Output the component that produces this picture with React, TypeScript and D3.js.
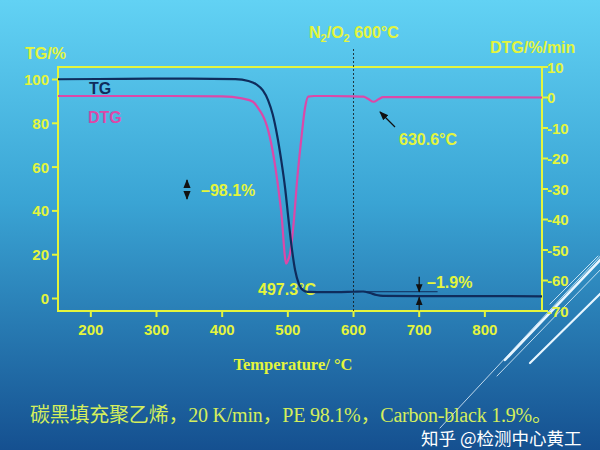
import React from "react";
import * as d3 from "d3";

// TG curve, temperature (°C) vs mass (%)
const tgTemp = [150, 250, 350, 420, 440, 452, 462, 470, 477, 484, 490, 496, 501, 506, 511, 517, 523, 530, 560, 600, 615, 625, 635, 645, 700, 800, 887];
const tgMass = [100.1, 100.3, 100.4, 100.2, 99.3, 97.8, 95.0, 90.5, 84, 74, 63, 50, 36, 23, 13, 6.5, 3.8, 3.0, 2.9, 3.1, 3.2, 2.5, 1.6, 1.2, 1.1, 1.1, 1.0];

// DTG curve, temperature (°C) vs rate (%/min)
const dtgTemp = [150, 300, 400, 430, 447, 455, 462, 468, 477, 485, 491, 495, 497.3, 500, 503, 508, 515, 521, 526, 531, 540, 600, 615, 622, 630.6, 638, 645, 700, 887];
const dtgRate = [0.5, 0.5, 0.4, -0.3, -1.4, -3.6, -6, -9.2, -17.7, -29, -40, -51, -54.5, -53.5, -51.5, -43, -25, -12.5, -3.6, 0.3, 0.5, 0.4, 0.3, -0.4, -1.4, -0.6, 0.1, 0.1, 0.0];

const xTicks = [200, 300, 400, 500, 600, 700, 800];
const tgTicks = [0, 20, 40, 60, 80, 100];
const dtgTicks = [10, 0, -10, -20, -30, -40, -50, -60, -70];

const W = 600, H = 450;
const left = 58, right = 542, top = 67, bottom = 311;
const YEL = "#e4f53c";
const NAVY = "#0f2c5c";
const PINK = "#dc48a8";
const FONT = "'Liberation Sans', Arial, sans-serif";

export default function App() {
  const x = d3.scaleLinear().domain([150, 887]).range([left, right]);
  const yL = d3.scaleLinear().domain([-5.7, 105.7]).range([bottom, top]);
  const yR = d3.scaleLinear().domain([-70, 10]).range([bottom, top]);

  const tgLine = d3.line<number>().x((d, i) => x(tgTemp[i])).y((d) => yL(d)).curve(d3.curveMonotoneX);
  const dtgLine = d3.line<number>().x((d, i) => x(dtgTemp[i])).y((d) => yR(d)).curve(d3.curveMonotoneX);

  const x600 = x(600);
  const upper = yL(3.1);
  const lower = yL(1.0);
  const ax = x(700);

  return (
    <svg width={W} height={H} style={{ position: "fixed", left: 0, top: 0 }}>
      <defs>
        <linearGradient id="bg" x1="0" y1="0" x2="0" y2="1">
          <stop offset="0" stopColor="#62d2f4" />
          <stop offset="0.45" stopColor="#3aa4d4" />
          <stop offset="1" stopColor="#155090" />
        </linearGradient>
        <marker id="ah" viewBox="0 0 10 10" refX="9" refY="5" markerWidth="7" markerHeight="7" orient="auto">
          <path d="M0,1 L10,5 L0,9 z" fill="#111" />
        </marker>
      </defs>
      <rect width={W} height={H} fill="url(#bg)" />

      {/* decorative diagonal lines */}
      <g stroke="#e8f6ff" strokeLinecap="round">
        <line x1={606} y1={250} x2={440} y2={428} strokeWidth={0.8} />
        <line x1={602} y1={258} x2={505} y2={360} strokeWidth={2.5} />
        <line x1={604} y1={266} x2={497} y2={376} strokeWidth={0.8} />
        <line x1={604} y1={290} x2={530} y2={363} strokeWidth={2.2} />
        <line x1={598} y1={256} x2={550} y2={304} strokeWidth={0.8} />
      </g>

      {/* frame */}
      <rect x={left} y={top} width={right - left} height={bottom - top} fill="none" stroke={YEL} strokeWidth={2} />

      {/* axes */}
      <g fontFamily={FONT} fontWeight="bold" fontSize={15} fill={YEL}>
        {tgTicks.map((t) => (
          <g key={t}>
            <line x1={left - 6} x2={left} y1={yL(t)} y2={yL(t)} stroke={YEL} strokeWidth={2} />
            <text x={left - 9} y={yL(t) + 5.5} textAnchor="end">{t}</text>
          </g>
        ))}
        {xTicks.map((t) => (
          <g key={t}>
            <line x1={x(t)} x2={x(t)} y1={bottom} y2={bottom + 6} stroke={YEL} strokeWidth={2} />
            <text x={x(t)} y={bottom + 24} textAnchor="middle">{t}</text>
          </g>
        ))}
        {dtgTicks.map((t) => (
          <g key={t}>
            <line x1={right} x2={right + 6} y1={yR(t)} y2={yR(t)} stroke={YEL} strokeWidth={2} />
            <text x={right + 5} y={yR(t) + 5.5}>{t}</text>
          </g>
        ))}
      </g>

      <g fontFamily={FONT} fontWeight="bold" fontSize={16} fill={YEL}>
        <text x={25} y={59}>TG/%</text>
        <text x={490} y={53}>DTG/%/min</text>
        <text x={309} y={38}>
          N<tspan fontSize={11} dy={4}>2</tspan>
          <tspan dy={-4}>/O</tspan>
          <tspan fontSize={11} dy={4}>2</tspan>
          <tspan dy={-4}> 600°C</tspan>
        </text>
        <text x={201} y={196}>–98.1%</text>
        <text x={258} y={295}>497.3°C</text>
        <text x={399} y={145}>630.6°C</text>
        <text x={427} y={288}>–1.9%</text>
      </g>

      {/* N2/O2 switch line */}
      <line x1={x600} x2={x600} y1={49} y2={bottom} stroke="#111" strokeWidth={0.8} strokeDasharray="2,2" />

      {/* curves */}
      <path d={dtgLine(dtgRate) ?? ""} fill="none" stroke={PINK} strokeWidth={2.2} />
      <path d={tgLine(tgMass) ?? ""} fill="none" stroke={NAVY} strokeWidth={2.2} />

      {/* legend */}
      <g fontFamily={FONT} fontWeight="bold" fontSize={16}>
        <text x={89} y={94} fill={NAVY}>TG</text>
        <text x={88} y={123} fill={PINK}>DTG</text>
      </g>

      {/* annotations */}
      <line x1={395} y1={127} x2={380} y2={112} stroke="#111" strokeWidth={1.3} markerEnd="url(#ah)" />
      <line x1={187} y1={186} x2={187} y2={180} stroke="#111" strokeWidth={1.3} markerEnd="url(#ah)" />
      <line x1={187} y1={193} x2={187} y2={199} stroke="#111" strokeWidth={1.3} markerEnd="url(#ah)" />
      <line x1={x(615)} x2={x(728)} y1={upper} y2={upper} stroke={NAVY} strokeWidth={1} />
      <line x1={ax} x2={ax} y1={upper - 15} y2={upper} stroke="#111" strokeWidth={1.2} markerEnd="url(#ah)" />
      <line x1={ax} x2={ax} y1={lower + 14} y2={lower + 1} stroke="#111" strokeWidth={1.2} markerEnd="url(#ah)" />

      <text x={293} y={370} textAnchor="middle" fontFamily="'Liberation Serif', 'Times New Roman', serif" fontWeight="bold" fontSize={16.5} fill={YEL}>
        Temperature/ °C
      </text>
      <text x={30} y={422} fontFamily="'Liberation Serif', 'Times New Roman', 'Noto Sans CJK SC', serif" fontSize={20} fill="#d4ee5c" textLength={522}>
        碳黑填充聚乙烯，20 K/min，PE 98.1%，Carbon-black 1.9%。
      </text>
      <text x={421} y={445} fontFamily="'Noto Sans CJK SC', sans-serif" fontSize={17.5} fill="#ffffff">
        知乎 @检测中心黄工
      </text>
    </svg>
  );
}
